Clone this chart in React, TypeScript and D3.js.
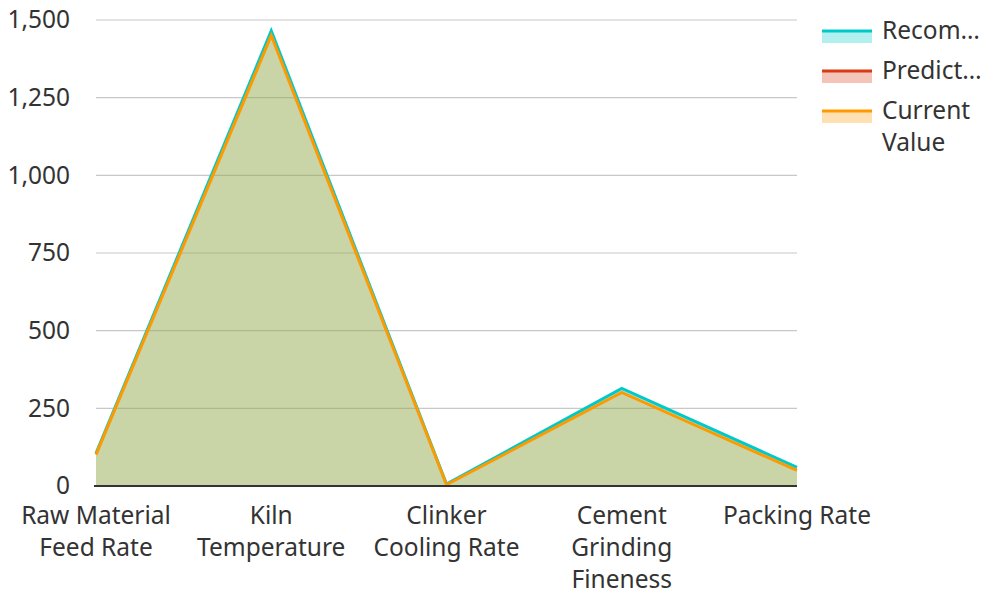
import React from "react";
import * as d3 from "d3";

const categories = [
  ["Raw Material", "Feed Rate"],
  ["Kiln", "Temperature"],
  ["Clinker", "Cooling Rate"],
  ["Cement", "Grinding", "Fineness"],
  ["Packing Rate"],
];
const recommended = [105, 1465, 6, 314, 60];
const predicted: (number | null)[] = [null, null, null, null, null];
const current = [101, 1450, 4, 301, 50];
const yTicks = [0, 250, 500, 750, 1000, 1250, 1500];
const legendLabels = [["Recom…"], ["Predict…"], ["Current", "Value"]];
const colors = ["#00c9c9", "#d93a16", "#ff9900"];

export default function App() {
  const W = 984, H = 591;
  const left = 96, right = 797, top = 20, bottom = 486;
  const x = d3.scalePoint<number>().domain(d3.range(categories.length)).range([left, right]).padding(0);
  const y = d3.scaleLinear().domain([0, 1500]).range([bottom, top]);
  const font = "'Noto Sans', 'Open Sans', sans-serif";
  const fs = 24.5;
  const series = [recommended, predicted, current];

  const area = d3.area<number | null>()
    .defined((d) => d != null)
    .x((_, i) => x(i)!)
    .y0(y(0))
    .y1((d) => y(d as number));
  const line = d3.line<number | null>()
    .defined((d) => d != null)
    .x((_, i) => x(i)!)
    .y((d) => y(d as number));

  return (
    <svg width={W} height={H} style={{ position: "absolute", left: 0, top: 0 }} fontFamily={font}>
      {yTicks.map((t) => (
        <g key={t}>
          {t !== 0 && <line x1={left} x2={right} y1={y(t)} y2={y(t)} stroke="#c8c8c8" strokeWidth={1.2} />}
          <text x={70} y={y(t)} dy="0.34em" textAnchor="end" fontSize={fs} fill="#333">
            {d3.format(",")(t)}
          </text>
        </g>
      ))}
      {series.map((s, i) =>
        s.some((v) => v != null) ? (
          <g key={i}>
            <path d={area(s) || ""} fill={colors[i]} fillOpacity={0.3} />
            <path d={line(s) || ""} fill="none" stroke={colors[i]} strokeWidth={3} strokeLinejoin="miter" />
          </g>
        ) : null
      )}
      <line x1={left - 2} x2={right} y1={bottom} y2={bottom} stroke="#333" strokeWidth={2} />
      {categories.map((lines, i) => (
        <text key={i} x={x(i)} y={516} textAnchor="middle" fontSize={fs} fill="#333">
          {lines.map((l, j) => (
            <tspan key={j} x={x(i)} y={516 + j * 32} dy="0.33em">{l}</tspan>
          ))}
        </text>
      ))}
      {legendLabels.map((lines, i) => {
        const yy = 31 + i * 40;
        return (
          <g key={i}>
            <rect x={822} y={yy} width={50} height={12} fill={colors[i]} fillOpacity={0.3} />
            <line x1={822} x2={872} y1={yy} y2={yy} stroke={colors[i]} strokeWidth={3} />
            <text x={882} y={yy} fontSize={fs} fill="#333">
              {lines.map((l, j) => (
                <tspan key={j} x={882} y={yy + j * 32} dy="0.34em">{l}</tspan>
              ))}
            </text>
          </g>
        );
      })}
    </svg>
  );
}
